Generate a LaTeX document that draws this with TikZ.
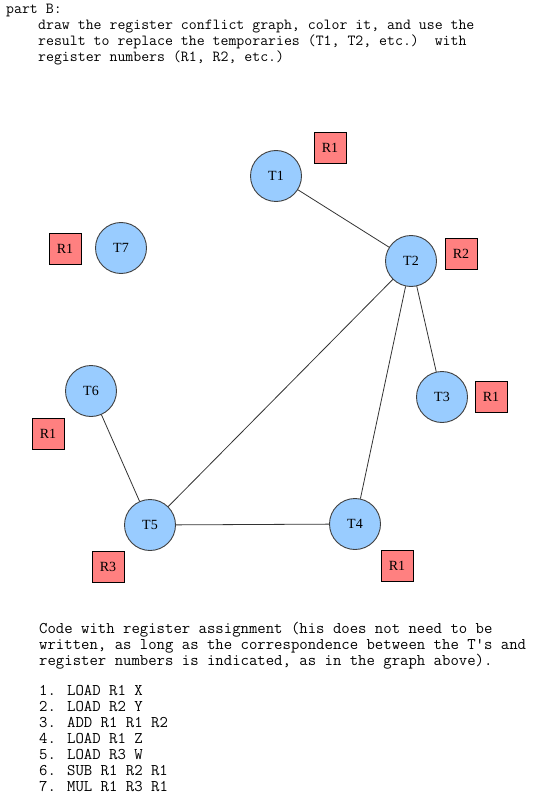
\documentclass[tikz,border=0pt]{standalone}
\usepackage{fontspec}
\setmainfont{Liberation Serif}
\usepackage{tikz}
\usetikzlibrary{positioning}
\usepackage{xcolor}
\definecolor{tempfill}{HTML}{99CCFF}
\definecolor{tempdraw}{HTML}{404040}
\definecolor{regfill}{HTML}{FF8080}
\definecolor{edgeclr}{HTML}{333333}
\tikzset{
  temp/.style={circle, draw=tempdraw, fill=tempfill, line width=0.9pt,
               minimum size=51pt, inner sep=0pt, font=\fontsize{14}{16}\selectfont},
  reg/.style={rectangle, draw=black, fill=regfill, line width=0.9pt,
              minimum width=32pt, minimum height=31pt, inner sep=0pt,
              font=\fontsize{14}{16}\selectfont},
  conflict/.style={draw=edgeclr, line width=0.8pt},
  mono/.style={font=\ttfamily\fontsize{16.3}{16}\selectfont, align=left, inner sep=0pt},
  monosm/.style={font=\ttfamily\fontsize{15.4}{16}\selectfont, align=left, inner sep=0pt}
}

\begin{document}
\begin{tikzpicture}[x=1pt,y=-1pt]
  \useasboundingbox (0,0) rectangle (551,810);

  % question text (base = last line)
  \node[monosm, anchor=base west] (title) at (6,14) {part B:};
  \node[monosm, anchor=base west] (task) at (38,62)
     {draw the register conflict graph, color it, and use the\\
      result to replace the temporaries (T1, T2, etc.)\ \ with\\
      register numbers (R1, R2, etc.)};

  % temporaries
  \node[temp] (t1) at (276,176) {T1};
  \node[temp] (t2) at (411,261) {T2};
  \node[temp] (t3) at (442,397) {T3};
  \node[temp] (t4) at (355,524) {T4};
  \node[temp] (t5) at (150,525) {T5};
  \node[temp] (t6) at (91,391) {T6};
  \node[temp] (t7) at (121,248) {T7};

  % register colors
  \node[reg] (r1) at (330,148) {R1};
  \node[reg] (r2) at (461,254) {R2};
  \node[reg] (r3) at (491,397) {R1};
  \node[reg] (r4) at (397,566) {R1};
  \node[reg] (r5) at (108,567) {R3};
  \node[reg] (r6) at (48,434) {R1};
  \node[reg] (r7) at (65,249) {R1};

  % conflicts
  \draw[conflict] (t1) -- (t2);
  \draw[conflict] (t2) -- (t3);
  \draw[conflict] (t2) -- (t4);
  \draw[conflict] (t2) -- (t5);
  \draw[conflict] (t6) -- (t5);
  \draw[conflict] (t5) -- (t4);

  % answer code
  \node[mono, anchor=base west] (note) at (39,665)
     {Code with register assignment (his does not need to be\\
      written, as long as the correspondence between the T's and\\
      register numbers is indicated, as in the graph above).};
  \node[mono, anchor=base west] (listing) at (39,791)
     {1. LOAD R1 X\\
      2. LOAD R2 Y\\
      3. ADD R1 R1 R2\\
      4. LOAD R1 Z\\
      5. LOAD R3 W\\
      6. SUB R1 R2 R1\\
      7. MUL R1 R3 R1};
\end{tikzpicture}
\end{document}
